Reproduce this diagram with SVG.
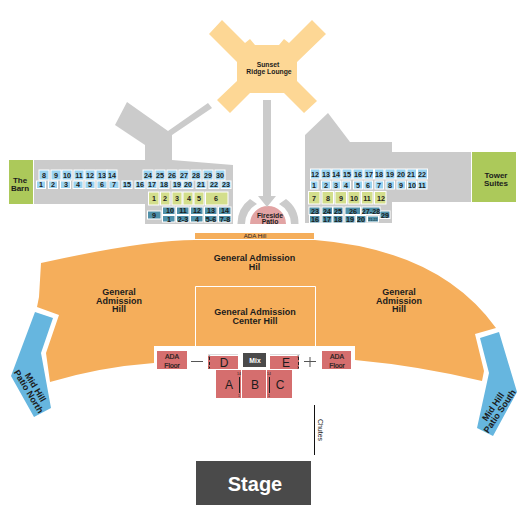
<svg xmlns="http://www.w3.org/2000/svg" width="525" height="520" viewBox="0 0 525 520">
<style>
text{font-family:"Liberation Sans",Arial,sans-serif;font-weight:700;fill:#1c1c1c;text-anchor:middle}
.g{fill:#cbcbcb}
.l{font-size:9px}
.b{font-size:8px}
.n{font-size:7.2px}
.s{fill:#9ad3f0;stroke:#fff;stroke-width:1}
.v{fill:#d3de8c;stroke:#fff;stroke-width:1}
.t{fill:#4f90a9;stroke:#fff;stroke-width:1}
.r{fill:#d56e6e}
.d{fill:#4a4a4a}
.f{font-size:12px;font-weight:400}
.a{font-size:6.800px;font-weight:400;stroke:#1c1c1c;stroke-width:.2}
.m{stroke:#555;stroke-width:1;fill:none}
.k{stroke:#222;stroke-width:1;fill:none}
.x{font-size:3.500px;font-weight:400}
</style>
<g id="grey">
<polygon class="g" points="34,160 145,160 145,145 115,125 127,102 168,131 208,103 212,108 172,135 172,160 233,165 233,224 145,224 145,204 34,204"/>
<polygon class="g" points="305,135 328,113 350,142 392,142 392,152 471,152 471,202 392,202 392,223 305,223"/>
</g>
<g id="fireside">
<path class="g" d="M237.500,224A30.500,30.500 0 0 1 250,199L257,204A23,23 0 0 0 245,224Z"/>
<path class="g" d="M298.500,224A30.500,30.500 0 0 0 286,199L279,204A23,23 0 0 1 291,224Z"/>
<path d="M250,224A18,18 0 0 1 286,224Z" fill="#e2a4a4"/>
<polygon class="g" points="263,100 271,100 271,196 276,196 267,207 258,196 263,196"/>
<text class="n" x="270" y="217.500" style="font-size:6.800px">Fireside</text><text class="n" x="270" y="224" style="font-size:6.800px">Patio</text>
</g>
<g id="lounge">
<polygon fill="#fdd795" points="222,20 245,43 250,39 255,45 279,45 284,39 289,43 312,20 326,34 297,62 297,81 317,101 304,113 284,93 250,93 230,113 217,100 237,81 237,62 209,34"/>
<text x="268" y="66.500" font-size="6.800">Sunset</text><text x="269" y="74" font-size="6.800">Ridge Lounge</text>
</g>
<g id="barn"><rect x="9" y="160" width="24" height="44" fill="#acc95a"/><text class="b" x="20" y="183">The</text><text class="b" x="20" y="190.500">Barn</text></g>
<g id="tower"><rect x="472" y="152" width="44" height="50" fill="#acc95a"/><text class="b" x="496" y="178">Tower</text><text class="b" x="496" y="185.500">Suites</text></g>
<g id="left-upper-seats">
<rect class="s" x="39" y="170" width="10" height="10"/><rect class="s" x="51" y="170" width="10" height="10"/><rect class="s" x="62" y="170" width="10" height="10"/><rect class="s" x="74" y="170" width="10" height="10"/><rect class="s" x="85" y="170" width="10" height="10"/><rect class="s" x="96" y="170" width="11" height="10"/><rect class="s" x="107" y="170" width="10" height="10"/>
<rect class="s" x="143" y="170" width="10" height="10"/><rect class="s" x="155" y="170" width="10" height="10"/><rect class="s" x="167" y="170" width="10" height="10"/><rect class="s" x="179" y="170" width="10" height="10"/><rect class="s" x="191" y="170" width="10" height="10"/><rect class="s" x="203" y="170" width="10" height="10"/><rect class="s" x="215" y="170" width="10" height="10"/>
<rect class="s" x="36.500" y="181" width="9" height="7.500"/><rect class="s" x="48.500" y="181" width="9" height="7.500"/><rect class="s" x="60.500" y="181" width="10" height="7.500"/><rect class="s" x="73" y="181" width="10" height="7.500"/><rect class="s" x="85" y="181" width="10" height="7.500"/><rect class="s" x="97" y="181" width="10" height="7.500"/><rect class="s" x="109" y="181" width="10" height="7.500"/><rect class="s" x="122" y="181" width="10" height="7.500"/><rect class="s" x="135" y="181" width="10" height="7.500"/><rect class="s" x="147" y="181" width="10" height="7.500"/><rect class="s" x="159" y="181" width="10" height="7.500"/><rect class="s" x="172" y="181" width="10" height="7.500"/><rect class="s" x="183" y="181" width="10" height="7.500"/><rect class="s" x="196" y="181" width="10" height="7.500"/><rect class="s" x="209" y="181" width="10" height="7.500"/><rect class="s" x="221" y="181" width="10" height="7.500"/>
<text class="n" x="44" y="178">8</text><text class="n" x="56" y="178">9</text><text class="n" x="67" y="178">10</text><text class="n" x="79" y="178">11</text><text class="n" x="90" y="178">12</text><text class="n" x="102" y="178">13</text><text class="n" x="112" y="178">14</text><text class="n" x="148" y="178">24</text><text class="n" x="160" y="178">25</text><text class="n" x="172" y="178">26</text><text class="n" x="184" y="178">27</text><text class="n" x="196" y="178">28</text><text class="n" x="208" y="178">29</text><text class="n" x="220" y="178">30</text>
<text class="n" x="41" y="187">1</text><text class="n" x="53" y="187">2</text><text class="n" x="66" y="187">3</text><text class="n" x="78" y="187">4</text><text class="n" x="90" y="187">5</text><text class="n" x="102" y="187">6</text><text class="n" x="114" y="187">7</text><text class="n" x="127" y="187">15</text><text class="n" x="140" y="187">16</text><text class="n" x="152" y="187">17</text><text class="n" x="164" y="187">18</text><text class="n" x="177" y="187">19</text><text class="n" x="188" y="187">20</text><text class="n" x="201" y="187">21</text><text class="n" x="214" y="187">22</text><text class="n" x="226" y="187">23</text>
</g>
<g id="left-lower-seats">
<rect class="v" x="148.500" y="192" width="10.500" height="13"/><rect class="v" x="160.500" y="192" width="9.500" height="13"/><rect class="v" x="172" y="192" width="10" height="13"/><rect class="v" x="183" y="192" width="10" height="13"/><rect class="v" x="194" y="192" width="10" height="13"/><rect class="v" x="205.500" y="192" width="22.500" height="13"/>
<text class="n" x="154" y="201">1</text><text class="n" x="165" y="201">2</text><text class="n" x="177" y="201">3</text><text class="n" x="189" y="201">4</text><text class="n" x="199" y="201">5</text><text class="n" x="216" y="201">6</text>
<rect class="t" x="147.500" y="211" width="13.500" height="8"/><text class="n" x="154" y="217.500">9</text>
<rect class="t" x="162.500" y="207" width="12.500" height="7.500"/><rect class="t" x="176.500" y="207" width="12.500" height="7.500"/><rect class="t" x="190.500" y="207" width="12.500" height="7.500"/><rect class="t" x="204.500" y="207" width="12.500" height="7.500"/><rect class="t" x="218.500" y="207" width="12.500" height="7.500"/>
<rect class="t" x="162.500" y="215.500" width="12.500" height="6.500"/><rect class="t" x="176.500" y="215.500" width="12.500" height="6.500"/><rect class="t" x="190.500" y="215.500" width="12.500" height="6.500"/><rect class="t" x="204.500" y="215.500" width="12.500" height="6.500"/><rect class="t" x="218.500" y="215.500" width="12.500" height="6.500"/>
<text class="n" x="170" y="213">10</text><text class="n" x="183" y="213">11</text><text class="n" x="197" y="213">12</text><text class="n" x="211" y="213">13</text><text class="n" x="225" y="213">14</text>
<text class="n" x="169" y="221.500">1</text><text class="n" x="183" y="221.500">2-3</text><text class="n" x="197" y="221.500">4</text><text class="n" x="211" y="221.500">5-6</text><text class="n" x="225" y="221.500">7-8</text>
</g>
<g id="right-seats">
<rect class="s" x="310.500" y="169" width="9.500" height="10"/><rect class="s" x="321" y="169" width="10" height="10"/><rect class="s" x="332" y="169" width="9" height="10"/><rect class="s" x="342" y="169" width="10" height="10"/><rect class="s" x="353" y="169" width="10" height="10"/><rect class="s" x="364" y="169" width="9.500" height="10"/><rect class="s" x="374.500" y="169" width="9.500" height="10"/><rect class="s" x="385" y="169" width="10" height="10"/><rect class="s" x="396" y="169" width="10" height="10"/><rect class="s" x="407" y="169" width="9.500" height="10"/><rect class="s" x="417.500" y="169" width="10" height="10"/>
<rect class="s" x="310.500" y="181" width="7.500" height="8"/><rect class="s" x="321.500" y="181" width="9" height="8"/><rect class="s" x="332" y="181" width="8.500" height="8"/><rect class="s" x="342" y="181" width="8.500" height="8"/><rect class="s" x="353.500" y="181" width="9" height="8"/><rect class="s" x="364" y="181" width="8.500" height="8"/><rect class="s" x="375" y="181" width="8.500" height="8"/><rect class="s" x="386" y="181" width="8.500" height="8"/><rect class="s" x="397" y="181" width="8.500" height="8"/><rect class="s" x="407.500" y="181" width="9" height="8"/><rect class="s" x="418" y="181" width="9" height="8"/>
<text class="n" x="315" y="177">12</text><text class="n" x="326" y="177">13</text><text class="n" x="336" y="177">14</text><text class="n" x="347" y="177">15</text><text class="n" x="358" y="177">16</text><text class="n" x="369" y="177">17</text><text class="n" x="379" y="177">18</text><text class="n" x="390" y="177">19</text><text class="n" x="401" y="177">20</text><text class="n" x="411" y="177">21</text><text class="n" x="422" y="177">22</text>
<text class="n" x="314" y="187.500">1</text><text class="n" x="326" y="187.500">2</text><text class="n" x="336" y="187.500">3</text><text class="n" x="346" y="187.500">4</text><text class="n" x="358" y="187.500">5</text><text class="n" x="368" y="187.500">6</text><text class="n" x="379" y="187.500">7</text><text class="n" x="390" y="187.500">8</text><text class="n" x="401" y="187.500">9</text><text class="n" x="412" y="187.500">10</text><text class="n" x="422" y="187.500">11</text>
<rect class="v" x="308.500" y="191.500" width="11.500" height="12.500"/><rect class="v" x="322" y="191.500" width="11.500" height="12.500"/><rect class="v" x="335" y="191.500" width="11.500" height="12.500"/><rect class="v" x="348" y="191.500" width="12" height="12.500"/><rect class="v" x="361.500" y="191.500" width="11.500" height="12.500"/><rect class="v" x="374.500" y="191.500" width="11.500" height="12.500"/>
<text class="n" x="314" y="200.500">7</text><text class="n" x="328" y="200.500">8</text><text class="n" x="341" y="200.500">9</text><text class="n" x="354" y="200.500">10</text><text class="n" x="367" y="200.500">11</text><text class="n" x="381" y="200.500">12</text>
<rect class="t" x="309" y="207" width="11" height="7.500"/><rect class="t" x="322" y="207" width="10.500" height="7.500"/><rect class="t" x="333" y="207" width="10" height="7.500"/><rect class="t" x="345" y="207" width="15.500" height="7.500"/><rect class="t" x="362" y="207" width="18" height="7.500"/><rect class="t" x="380" y="211" width="10" height="7.500"/>
<rect class="t" x="309.500" y="215.500" width="10.500" height="7.500"/><rect class="t" x="322" y="215.500" width="10" height="7.500"/><rect class="t" x="333" y="215.500" width="10" height="7.500"/><rect class="t" x="345" y="215.500" width="10" height="7.500"/><rect class="t" x="356.500" y="215.500" width="9.500" height="7.500"/><rect class="t" x="367.500" y="216" width="11" height="6"/>
<text class="n" x="315" y="213.500">23</text><text class="n" x="327" y="213.500">24</text><text class="n" x="338" y="213.500">25</text><text class="n" x="353" y="213.500">26</text><text class="n" x="371" y="213.500">27-28</text><text class="n" x="385" y="217.500">29</text>
<text class="n" x="315" y="222">16</text><text class="n" x="327" y="222">17</text><text class="n" x="338" y="222">18</text><text class="n" x="350" y="222">19</text><text class="n" x="361" y="222">20</text><text class="x" x="373" y="220.500">21-22</text>
</g>
<g id="ada-hill"><rect x="195" y="233" width="119" height="6" fill="#f5ae5b"/><text x="255" y="238" font-size="6.200" style="font-weight:400">ADA Hill</text></g>
<g id="ga">
<path fill="#f5ae5b" d="M41,263Q145,240 195,240L315,240Q440,250 496,328L475,334L484,371L482,381Q420,366 355,360L355,346L154,346L154,363Q100,367 50,382L46,353L59,315L37,307L39,297Z"/>
<path d="M195.500,346V286.500H315.500V346" fill="none" stroke="#fff" stroke-width="1"/>
<text class="l" x="254.500" y="261">General Admission</text><text class="l" x="254.500" y="269.500">Hil</text>
<text class="l" x="119" y="295">General</text><text class="l" x="119" y="303.500">Admission</text><text class="l" x="119" y="312">Hill</text>
<text class="l" x="399" y="295">General</text><text class="l" x="399" y="303.500">Admission</text><text class="l" x="399" y="312">Hill</text>
<text class="l" x="255" y="315">General Admission</text><text class="l" x="255" y="324">Center Hill</text>
</g>
<g id="mid-north"><polygon fill="#66b6df" points="35,312 53,318 41,353 51,408 34,417 11,376"/><g transform="translate(32 389.500) rotate(59)"><text class="l" x="0" y="-1">Mid Hill</text><text class="l" x="0" y="7">Patio North</text></g></g>
<g id="mid-south"><polygon fill="#66b6df" points="499,332 480,338 489,373 477,428 493,436 517,392"/><g transform="translate(496.500 409) rotate(-56)"><text class="l" x="0" y="-1">Mid Hill</text><text class="l" x="0" y="7">Patio South</text></g></g>
<g id="floor">
<rect class="r" x="157" y="351" width="30" height="18"/><text class="a" x="172" y="359">ADA</text><text class="a" x="172" y="368">Floor</text>
<rect class="r" x="322" y="351" width="29" height="18"/><text class="a" x="337" y="359">ADA</text><text class="a" x="337" y="368">Floor</text>
<path class="m" d="M191,361.500H203M304,361.500H316M310,357V367"/>
<path d="M208,354.500H238M270,354.500H300" stroke="#ddd" stroke-width="1" fill="none"/>
<rect class="r" x="208" y="356" width="30" height="13"/><text class="f" x="224" y="367">D</text>
<rect class="r" x="270" y="356" width="29" height="13"/><text class="f" x="286" y="367">E</text>
<rect class="d" x="243" y="353" width="23" height="14"/><text x="255" y="363" font-size="6.800" style="fill:#fff">Mix</text>
<rect class="r" x="216" y="370" width="25" height="28"/><text class="f" x="229" y="388.500">A</text>
<rect class="r" x="242" y="370" width="24" height="28"/><text class="f" x="255" y="388.500">B</text>
<rect class="r" x="267" y="370" width="25" height="28"/><text class="f" x="280" y="388.500">C</text>
<path class="k" d="M239.500,377V393M269.500,377V393"/>
<path class="k" d="M209.500,357V368M298.500,357V368" stroke-dasharray="3 2"/>
<text class="x" x="239" y="375">14</text><text class="x" x="239" y="397">1</text><text class="x" x="269" y="375">14</text><text class="x" x="269" y="397">1</text><text class="x" x="209" y="358">7</text><text class="x" x="209" y="369">1</text><text class="x" x="298" y="358">7</text><text class="x" x="298" y="369">1</text>
</g>
<g id="chutes"><path d="M314.500,405V455" stroke="#111" stroke-width="1"/><text transform="translate(317.500 430) rotate(90)" font-size="7" style="font-weight:400">Chutes</text></g>
<g id="stage"><rect class="d" x="196" y="461" width="115" height="44"/><text x="255" y="491" font-size="20" style="fill:#fff">Stage</text></g>
</svg>
